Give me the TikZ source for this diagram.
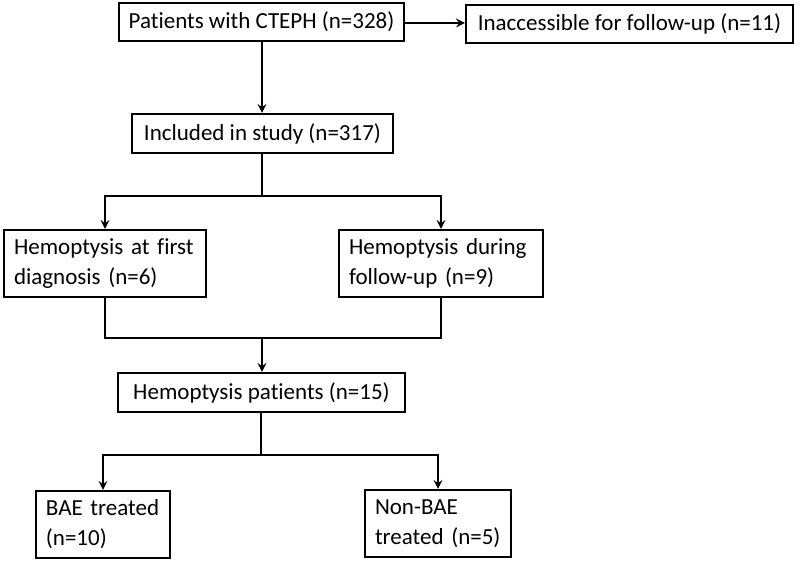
\documentclass[tikz,border=0pt]{standalone}
\usepackage{fontspec}
\setmainfont{Carlito}[Ligatures=NoCommon]
\usetikzlibrary{arrows,positioning,calc}

\begin{document}
\begin{tikzpicture}[
  x=0.5pt,y=-0.5pt,
  every node/.style={font=\fontsize{11.5}{15}\selectfont},
  box/.style={rectangle,draw=black,line width=1pt,inner xsep=5pt,inner ysep=0pt,align=left},
  arrow/.style={->,>=stealth,line width=1pt},
  link/.style={line width=1pt}
]
\useasboundingbox (0,0) rectangle (800,566);

\node[box,minimum width=142.5pt,minimum height=19pt] (pat) at (261.5,22) {Patients with CTEPH (n=328)};
\node[box,minimum width=163.5pt,minimum height=19pt] (lost) at (629.5,24) {Inaccessible for follow-up (n=11)};
\node[box,minimum width=130.5pt,minimum height=19.5pt] (incl) at (262.5,133.5) {Included in study (n=317)};
\node[box,text width=91pt,minimum height=33.5pt] (first) at (105,263.5) {Hemoptysis at first\\diagnosis (n=6)};
\node[box,text width=92pt,minimum height=33.5pt] (during) at (441,263.5) {Hemoptysis during\\follow-up (n=9)};
\node[box,minimum width=143.5pt,minimum height=19.5pt] (hemo) at (261.5,392.5) {Hemoptysis patients (n=15)};
\node[box,text width=57pt,minimum height=33.5pt] (bae) at (103,524.5) {BAE treated\\(n=10)};
\node[box,text width=63pt,minimum height=33.5pt] (nonbae) at (438,523.5) {Non-BAE\\treated (n=5)};

% junctions
\coordinate (split1) at (262,196);
\coordinate (merge) at (262,338);
\coordinate (split2) at (261,455);

\draw[arrow] (pat.east |- 0,23) -- (lost.west |- 0,23);
\draw[arrow] (pat.south -| 262,0) -- (incl.north -| 262,0);
\draw[link] (incl.south -| split1) -- (split1);
\draw[arrow] (split1) -| (first.north);
\draw[arrow] (split1) -| (during.north);
\draw[link] (first.south) |- (merge);
\draw[link] (during.south) |- (merge);
\draw[arrow] (merge) -- (hemo.north -| merge);
\draw[link] (hemo.south -| split2) -- (split2);
\draw[arrow] (split2) -| (bae.north);
\draw[arrow] (split2) -| (nonbae.north);
\end{tikzpicture}
\end{document}
